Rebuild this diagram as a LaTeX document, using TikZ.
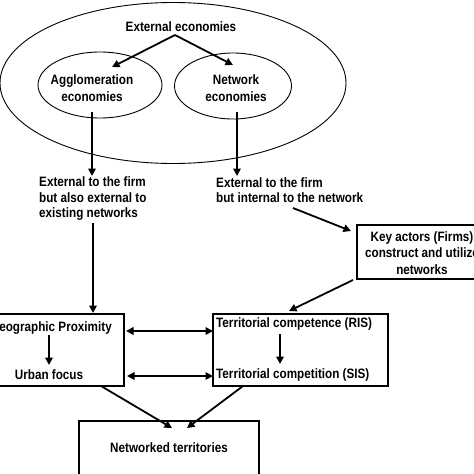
\documentclass[tikz,border=0pt]{standalone}
\usepackage{fontspec}
\setmainfont{Liberation Sans}[FakeStretch=0.86]
\usetikzlibrary{arrows.meta,shapes.geometric}
\begin{document}
\begin{tikzpicture}[x=1pt,y=-1pt,
  arr/.style={line width=1.8pt,-{Triangle[length=7.5pt,width=7.5pt]}},
  darr/.style={line width=1.8pt,{Triangle[length=7.5pt,width=7.5pt]}-{Triangle[length=7.5pt,width=7.5pt]}},
  txt/.style={font=\fontsize{13.6}{15.5}\selectfont\bfseries,inner sep=0pt},
  ell/.style={draw,ellipse,line width=0.9pt,inner sep=0pt},
  boxx/.style={draw,line width=1.1pt}]
\useasboundingbox (0,0) rectangle (474,474);
\clip (0,0) rectangle (474,474);
% ellipses
\node[ell,minimum width=346pt,minimum height=161pt] (outer) at (173,83) {};
\node[ell,minimum width=124pt,minimum height=66pt] (agge) at (100,85) {};
\node[ell,minimum width=117pt,minimum height=66pt] (nete) at (233,86) {};
% texts
\node[txt] (ext) at (181,27) {External economies};
\node[txt,align=center,font=\fontsize{13.6}{17}\selectfont\bfseries] (agg) at (92,88) {Agglomeration\\economies};
\node[txt,align=center,font=\fontsize{13.6}{17}\selectfont\bfseries] (net) at (236,88) {Network\\economies};
\node[txt,align=left,anchor=west] (extl) at (39,199) {External to the firm\\but also external to\\existing networks};
\node[txt,align=left,anchor=west] (extr) at (216,190) {External to the firm\\but internal to the network};
% boxes
\node[boxx,minimum width=130pt,minimum height=54pt] (keyb) at (422,252) {};
\node[txt,align=center,font=\fontsize{13.6}{16.5}\selectfont\bfseries] (key) at (422,253) {Key actors (Firms)\\construct and utilize\\networks};
\draw[boxx] (-20,314) rectangle (124,386);
\node[txt] (gp) at (51,328) {Geographic Proximity};
\node[txt] (uf) at (49,375) {Urban focus};
\draw[boxx] (213,314) rectangle (388,386);
\node[txt,anchor=west] (ris) at (216,324) {Territorial competence (RIS)};
\node[txt,anchor=west] (sis) at (216,375) {Territorial competition (SIS)};
\draw[boxx] (79,421) rectangle (259,490);
\node[txt] (nt) at (169,448) {Networked territories};
% arrow endpoints
\coordinate (es) at (175,35);
\coordinate (aggin) at (112,67);
\coordinate (netin) at (233,65);
\coordinate (aggout) at (92,112);
\coordinate (netout) at (237,112);
\coordinate (extlin) at (92,176);
\coordinate (extrin) at (237,176);
\coordinate (extlout) at (93,223);
\coordinate (gpin) at (93,313);
\coordinate (extrout) at (293,208);
\coordinate (keyin) at (351,231);
\coordinate (keyout) at (353,280);
\coordinate (risin) at (289,311);
\coordinate (gpd) at (49,335);
\coordinate (ufu) at (49,365);
\coordinate (risd) at (280,334);
\coordinate (sisu) at (280,364);
\coordinate (l1) at (126,331);
\coordinate (r1) at (213,331);
\coordinate (l2) at (127,376);
\coordinate (r2) at (213,376);
\coordinate (ufout) at (101,386);
\coordinate (sisout) at (243,386);
\coordinate (ntin1) at (172,428);
\coordinate (ntin2) at (187,428);
% arrows
\draw[arr] (es) -- (aggin);
\draw[arr] (es) -- (netin);
\draw[arr] (aggout) -- (extlin);
\draw[arr] (netout) -- (extrin);
\draw[arr] (extlout) -- (gpin);
\draw[arr] (extrout) -- (keyin);
\draw[arr] (keyout) -- (risin);
\draw[arr] (gpd) -- (ufu);
\draw[arr] (risd) -- (sisu);
\draw[darr] (l1) -- (r1);
\draw[darr] (l2) -- (r2);
\draw[arr] (ufout) -- (ntin1);
\draw[arr] (sisout) -- (ntin2);
\end{tikzpicture}
\end{document}
